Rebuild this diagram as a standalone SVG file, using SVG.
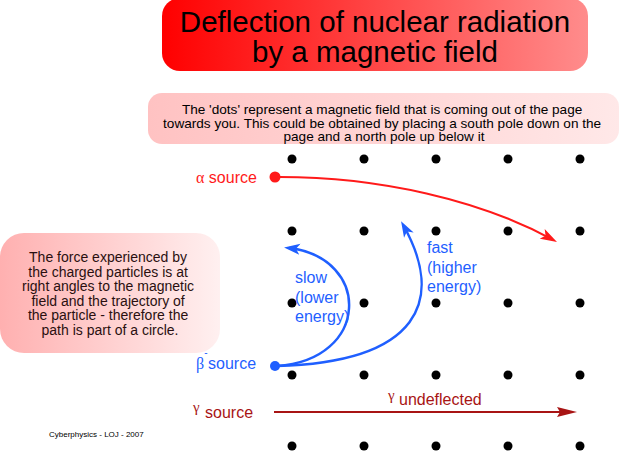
<svg xmlns="http://www.w3.org/2000/svg" width="620" height="453" viewBox="0 0 620 453">
<style>
.t{font-family:"Liberation Sans",Arial,sans-serif}
.g{font-family:"Liberation Serif","Times New Roman",serif}
.dot{fill:#000}
.blue{fill:#1f5fff}
.red{fill:#ff1a1a}
.dred{fill:#a81414}
</style>
<defs>
<linearGradient id="gTitle" x1="0" y1="0" x2="1" y2="0">
<stop offset="0" stop-color="#ff0000"/>
<stop offset="1" stop-color="#ff8c8c"/>
</linearGradient>
<linearGradient id="gSub" x1="0" y1="0" x2="1" y2="0">
<stop offset="0" stop-color="#ffc2c2"/>
<stop offset="1" stop-color="#ffe8e8"/>
</linearGradient>
<linearGradient id="gLeft" x1="0" y1="0" x2="1" y2="0">
<stop offset="0" stop-color="#ffb0b0"/>
<stop offset="1" stop-color="#fff0f0"/>
</linearGradient>
<marker id="ahBlue" markerUnits="userSpaceOnUse" viewBox="-16 -6 17 12" markerWidth="17" markerHeight="12" refX="-5" refY="0" orient="auto">
<path d="M0,0 L-16,-5.5 L-12,0 L-16,5.5 Z" fill="#1f5fff"/>
</marker>
<marker id="ahRed" markerUnits="userSpaceOnUse" viewBox="-17 -6 18 12" markerWidth="18" markerHeight="12" refX="-5" refY="0" orient="auto">
<path d="M0,0 L-17,-5.5 L-13,0 L-17,5.5 Z" fill="#ff1a1a"/>
</marker>
<marker id="ahDred" markerUnits="userSpaceOnUse" viewBox="-20 -6 21 12" markerWidth="21" markerHeight="12" refX="-5" refY="0" orient="auto">
<path d="M0,0 L-20,-5 L-17,0 L-20,5 Z" fill="#a81414"/>
</marker>
</defs>
<rect width="620" height="453" fill="#fff"/>

<g id="title">
<rect x="162" y="-2" width="426" height="73" rx="18" fill="url(#gTitle)"/>
<text class="t" x="375" y="32" font-size="29.5" text-anchor="middle" fill="#000">Deflection of nuclear radiation</text>
<text class="t" x="375" y="62" font-size="29.5" text-anchor="middle" fill="#000">by a magnetic field</text>
</g>

<g id="note-field">
<rect x="148" y="93" width="471" height="51" rx="14" fill="url(#gSub)"/>
<text class="t" font-size="13.6" text-anchor="middle" fill="#000">
<tspan x="384" y="114">The 'dots' represent a magnetic field that is coming out of the page</tspan>
<tspan x="384" y="127.5">towards you. This could be obtained by placing a south pole down on the</tspan>
<tspan x="384" y="141">page and a north pole up below it</tspan>
</text>
</g>

<g id="note-force">
<rect x="0" y="233" width="220" height="120" rx="24" fill="url(#gLeft)"/>
<text class="t" font-size="14" text-anchor="middle" fill="#2a1010">
<tspan x="110" y="262">The force experienced by</tspan>
<tspan x="110" y="276.5">the charged particles is at</tspan>
<tspan x="110" y="291">right angles to the magnetic</tspan>
<tspan x="110" y="305.5">field and the trajectory of</tspan>
<tspan x="110" y="320">the particle - therefore the</tspan>
<tspan x="110" y="334.5">path is part of a circle.</tspan>
</text>
</g>

<g id="field-dots">
<circle class="dot" cx="292" cy="159" r="4.5"/><circle class="dot" cx="364" cy="159" r="4.5"/><circle class="dot" cx="436" cy="159" r="4.5"/><circle class="dot" cx="508" cy="159" r="4.5"/><circle class="dot" cx="580" cy="159" r="4.5"/>
<circle class="dot" cx="292" cy="231" r="4.5"/><circle class="dot" cx="364" cy="231" r="4.5"/><circle class="dot" cx="436" cy="231" r="4.5"/><circle class="dot" cx="508" cy="231" r="4.5"/><circle class="dot" cx="580" cy="231" r="4.5"/>
<circle class="dot" cx="292" cy="303" r="4.5"/><circle class="dot" cx="364" cy="303" r="4.5"/><circle class="dot" cx="436" cy="303" r="4.5"/><circle class="dot" cx="508" cy="303" r="4.5"/><circle class="dot" cx="580" cy="303" r="4.5"/>
<circle class="dot" cx="292" cy="375" r="4.5"/><circle class="dot" cx="364" cy="375" r="4.5"/><circle class="dot" cx="436" cy="375" r="4.5"/><circle class="dot" cx="508" cy="375" r="4.5"/><circle class="dot" cx="580" cy="375" r="4.5"/>
<circle class="dot" cx="292" cy="446" r="4.5"/><circle class="dot" cx="364" cy="446" r="4.5"/><circle class="dot" cx="436" cy="446" r="4.5"/><circle class="dot" cx="508" cy="446" r="4.5"/><circle class="dot" cx="580" cy="446" r="4.5"/>
</g>

<g id="alpha-source">
<circle class="red" cx="275" cy="177" r="5.5"/>
<text class="t red" x="196" y="183" font-size="16"><tspan class="g">α</tspan> source</text>
</g>

<g id="beta-source">
<circle class="blue" cx="275" cy="366" r="5"/>
<text class="g blue" x="196" y="369" font-size="16">β<tspan class="t" dy="-13" font-size="10">-</tspan></text>
<text class="t blue" x="208" y="369" font-size="16">source</text>
</g>

<g id="gamma-source">
<text class="g dred" x="193" y="412" font-size="15">γ</text>
<text class="t dred" x="205" y="418" font-size="16">source</text>
</g>

<g id="connectors" fill="none">
<path d="M 279 177 C 380 177 480 200 552.6 239.6" stroke="#ff1a1a" stroke-width="2" marker-end="url(#ahRed)"/>
<path d="M 277 366 C 370 360 372 258 289 248" stroke="#1f5fff" stroke-width="2.5" marker-end="url(#ahBlue)"/>
<path d="M 277 366 C 420 362 445 300 403.5 225.5" stroke="#1f5fff" stroke-width="2.5" marker-end="url(#ahBlue)"/>
<path d="M 274 412 L 572 412" stroke="#a81414" stroke-width="2" marker-end="url(#ahDred)"/>
</g>

<g id="labels">
<text class="t blue" font-size="16"><tspan x="295" y="283">slow</tspan><tspan x="295" y="302.5">(lower</tspan><tspan x="295" y="322">energy)</tspan></text>
<text class="t blue" font-size="16"><tspan x="427" y="253">fast</tspan><tspan x="427" y="272.5">(higher</tspan><tspan x="427" y="292">energy)</tspan></text>
<text class="g dred" x="388" y="400" font-size="15">γ</text>
<text class="t dred" x="399" y="405" font-size="16">undeflected</text>
<text class="t" x="49" y="437" font-size="8" fill="#000">Cyberphysics - LOJ - 2007</text>
</g>
</svg>
